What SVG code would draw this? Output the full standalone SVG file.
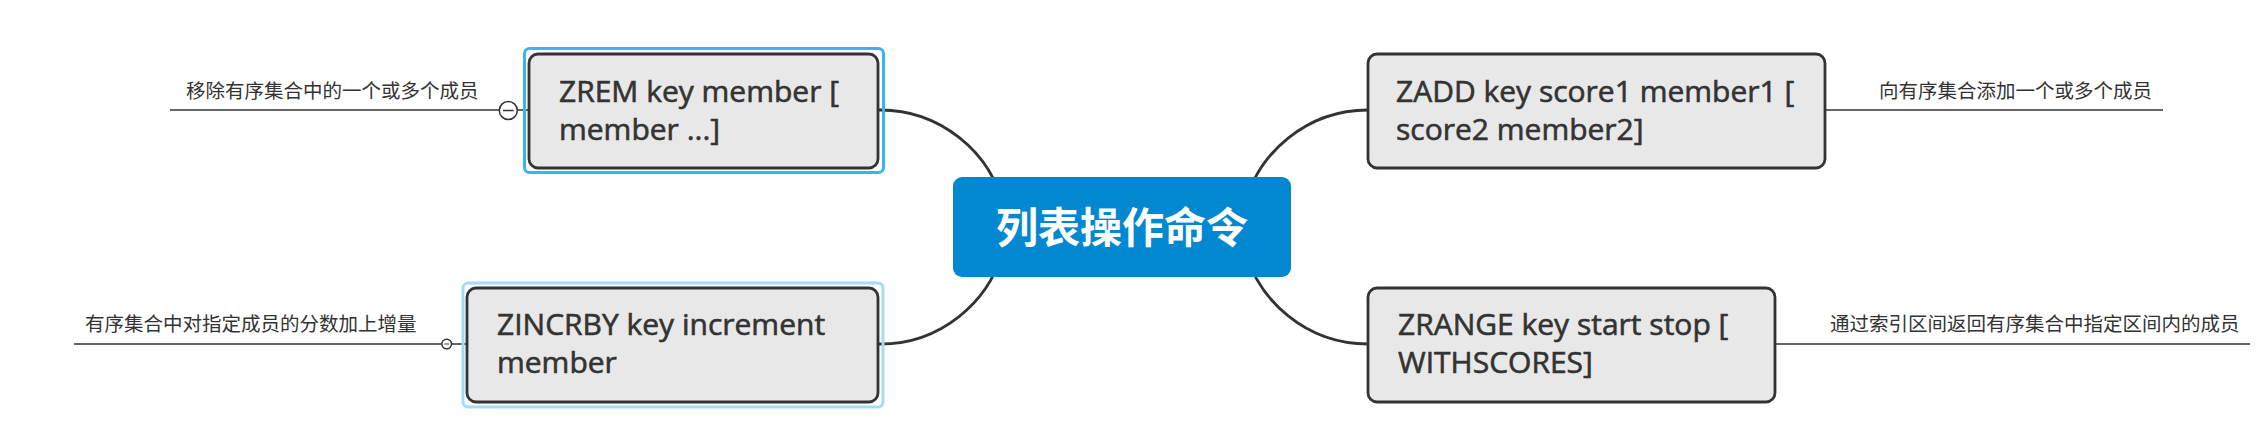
<svg xmlns="http://www.w3.org/2000/svg" width="2264" height="444" viewBox="0 0 2264 444">
<style>
.conn{fill:none;stroke:#333;stroke-width:2.8}
.sub{fill:none;stroke:#666;stroke-width:2}
.box{fill:#e8e8e8;stroke:#333;stroke-width:2.8}
.t{font-family:"Open Sans","Liberation Sans",sans-serif;font-size:30px;fill:#333;stroke:#333;stroke-width:0.6}
.lbl{font-family:"Noto Sans CJK SC","Liberation Sans",sans-serif;font-size:19.5px;fill:#333}
.root{font-family:"Noto Sans CJK SC",sans-serif;font-size:42px;font-weight:bold;fill:#fff}
.btn{fill:#fff;stroke:#333;stroke-width:1.5}
</style>
<rect width="2264" height="444" fill="#fff"/>
<g id="connectors">
<path class="conn" d="M878,110 A127.5,127.5 0 0 1 1004.5,210"/>
<path class="conn" d="M1368,110 A127.5,127.5 0 0 0 1243.5,210"/>
<path class="conn" d="M878,344 A127.5,127.5 0 0 0 1004.5,244"/>
<path class="conn" d="M1368,344 A127.5,127.5 0 0 1 1243.5,244"/>
<line class="sub" x1="170" y1="110" x2="499" y2="110"/>
<line class="sub" x1="517.5" y1="110" x2="529" y2="110"/>
<line class="sub" x1="74" y1="344" x2="442" y2="344"/>
<line class="sub" x1="451.5" y1="344" x2="467" y2="344"/>
<line class="sub" x1="1825" y1="110" x2="2163" y2="110"/>
<line class="sub" x1="1775" y1="344" x2="2250" y2="344"/>
</g>
<g id="root">
<rect x="953" y="177" width="338" height="100" rx="9" fill="#0288d1"/>
<text class="root" x="1122" y="243" text-anchor="middle">列表操作命令</text>
</g>
<g id="zrem">
<rect x="524.5" y="48.5" width="359" height="124" rx="5" fill="none" stroke="#36b5f4" stroke-width="3"/>
<rect class="box" x="529" y="54" width="349" height="114" rx="9"/>
<text class="t" x="559" y="102">ZREM key member [</text>
<text class="t" x="559" y="140">member ...]</text>
<circle class="btn" cx="508.3" cy="110.5" r="9"/>
<line x1="503" y1="110.5" x2="513.6" y2="110.5" stroke="#333" stroke-width="1.5"/>
<text class="lbl" x="186" y="98">移除有序集合中的一个或多个成员</text>
</g>
<g id="zadd">
<rect class="box" x="1368" y="54" width="457" height="114" rx="9"/>
<text class="t" x="1396" y="102">ZADD key score1 member1 [</text>
<text class="t" x="1396" y="140">score2 member2]</text>
<text class="lbl" x="1879" y="98">向有序集合添加一个或多个成员</text>
</g>
<g id="zincrby">
<rect x="463" y="283" width="420" height="124" rx="5" fill="none" stroke="#a2dcf8" stroke-width="3"/>
<rect class="box" x="467" y="288" width="411" height="114" rx="9"/>
<text class="t" x="497" y="335">ZINCRBY key increment</text>
<text class="t" x="497" y="373">member</text>
<circle class="btn" cx="446.7" cy="344" r="4.8" stroke-width="1.2"/>
<line x1="444.5" y1="344" x2="449" y2="344" stroke="#333" stroke-width="1"/>
<text class="lbl" x="85" y="331">有序集合中对指定成员的分数加上增量</text>
</g>
<g id="zrange">
<rect class="box" x="1368" y="288" width="407" height="114" rx="9"/>
<text class="t" x="1398" y="335">ZRANGE key start stop [</text>
<text class="t" x="1398" y="373">WITHSCORES]</text>
<text class="lbl" x="1830" y="331">通过索引区间返回有序集合中指定区间内的成员</text>
</g>
</svg>
